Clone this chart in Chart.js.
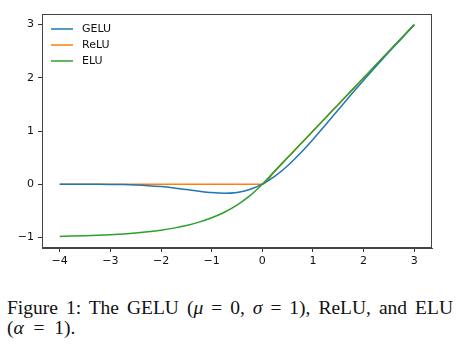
<!DOCTYPE html>
<html>
<head>
<meta charset="utf-8">
<script src="https://cdn.jsdelivr.net/npm/chart.js@4"></script>
<style>
  html, body { margin: 0; padding: 0; background: #fff; }
  #wrap { position: relative; width: 474px; height: 272px; }
  .cap { font-family: "Liberation Serif", "Times New Roman", serif; font-size: 19.5px; color: #111; margin: 26px 0 0 7px; width: 446px; line-height: 20px; }
  .cap div { white-space: nowrap; }
  .cap .l1 { text-align: justify; text-align-last: justify; }
  .cap i { font-style: italic; }
</style>
</head>
<body>
<div id="wrap"><canvas id="c" width="474" height="272"></canvas></div>
<div class="cap">
  <div class="l1">Figure 1: The GELU (<i>μ</i> = 0, <i>σ</i> = 1), ReLU, and ELU</div>
  <div>(<i>α</i> &nbsp;= &nbsp;1).</div>
</div>
<script>
// values, x step 0.25
const xs = [-4, -3.75, -3.5, -3.25, -3, -2.75, -2.5, -2.25, -2, -1.75, -1.5, -1.25, -1, -0.75, -0.5, -0.25,
  0, 0.25, 0.5, 0.75, 1, 1.25, 1.5, 1.75, 2, 2.25, 2.5, 2.75, 3];
const gelu = [-0.0001, -0.0003, -0.0008, -0.0019, -0.004, -0.0082, -0.0155, -0.0275, -0.0455, -0.0701, -0.1002, -0.1321, -0.1587, -0.17, -0.1543, -0.1003,
  0, 0.1497, 0.3457, 0.58, 0.8413, 1.1179, 1.3998, 1.6799, 1.9545, 2.2225, 2.4845, 2.7418, 2.996];
const relu = [0, 0, 0, 0, 0, 0, 0, 0, 0, 0, 0, 0, 0, 0, 0, 0,
  0, 0.25, 0.5, 0.75, 1, 1.25, 1.5, 1.75, 2, 2.25, 2.5, 2.75, 3];
const elu = [-0.9817, -0.9765, -0.9698, -0.9612, -0.9502, -0.9361, -0.9179, -0.8946, -0.8647, -0.8262, -0.7769, -0.7135, -0.6321, -0.5276, -0.3935, -0.2212,
  0, 0.25, 0.5, 0.75, 1, 1.25, 1.5, 1.75, 2, 2.25, 2.5, 2.75, 3];
const xTicks = [-4, -3, -2, -1, 0, 1, 2, 3];
const yTicks = [-1, 0, 1, 2, 3];

const pts = (ys) => xs.map((x, i) => ({ x, y: ys[i] }));
const fmt = (v) => (v < 0 ? '\u2212' + Math.abs(v) : String(v));
const tickFont = { family: 'DejaVu Sans', size: 11 };

const series = [
  { label: 'GELU', data: pts(gelu), color: '#1f77b4', order: 1 },
  { label: 'ReLU', data: pts(relu), color: '#ff7f0e', order: 2 },
  { label: 'ELU', data: pts(elu), color: '#2ca02c', order: 0 },
];

// matplotlib-style frame + legend inside the axes
const frame = {
  id: 'frame',
  afterDraw(chart) {
    const { ctx, chartArea: a } = chart;
    ctx.save();
    ctx.strokeStyle = '#444';
    ctx.lineWidth = 1;
    ctx.strokeRect(a.left + 0.5, a.top + 0.5, a.right - a.left - 1, a.bottom - a.top - 1);
    ctx.font = '11px "DejaVu Sans"';
    ctx.textBaseline = 'middle';
    series.forEach((s, i) => {
      const y = a.top + 15 + i * 16;
      ctx.strokeStyle = s.color;
      ctx.lineWidth = 1.5;
      ctx.beginPath();
      ctx.moveTo(a.left + 9, y);
      ctx.lineTo(a.left + 31, y);
      ctx.stroke();
      ctx.fillStyle = '#111';
      ctx.fillText(s.label, a.left + 40, y);
    });
    ctx.restore();
  },
};

new Chart(document.getElementById('c'), {
  type: 'line',
  data: {
    datasets: series.map((s) => ({
      label: s.label, data: s.data, order: s.order,
      borderColor: s.color, backgroundColor: s.color,
      borderWidth: 1.5, pointRadius: 0, cubicInterpolationMode: 'monotone',
    })),
  },
  options: {
    responsive: false, animation: false,
    layout: { padding: { top: 14, right: 42, left: 0, bottom: 0 } },
    plugins: { legend: { display: false }, tooltip: { enabled: false } },
    scales: {
      x: {
        type: 'linear', min: -4.35, max: 3.35,
        afterBuildTicks: (sc) => { sc.ticks = xTicks.map((v) => ({ value: v })); },
        afterFit: (sc) => { sc.height = 24; },
        grid: { drawOnChartArea: false, drawTicks: true, tickLength: 4, color: '#333' },
        border: { display: true, color: '#444' },
        ticks: { callback: fmt, font: tickFont, color: '#111', padding: 3, maxRotation: 0 },
      },
      y: {
        type: 'linear', min: -1.2, max: 3.2,
        afterBuildTicks: (sc) => { sc.ticks = yTicks.map((v) => ({ value: v })); },
        afterFit: (sc) => { sc.width = 42; },
        grid: { drawOnChartArea: false, drawTicks: true, tickLength: 4, color: '#333' },
        border: { display: true, color: '#444' },
        ticks: { callback: fmt, font: tickFont, color: '#111', padding: 4 },
      },
    },
  },
  plugins: [frame],
});
</script>
</body>
</html>
